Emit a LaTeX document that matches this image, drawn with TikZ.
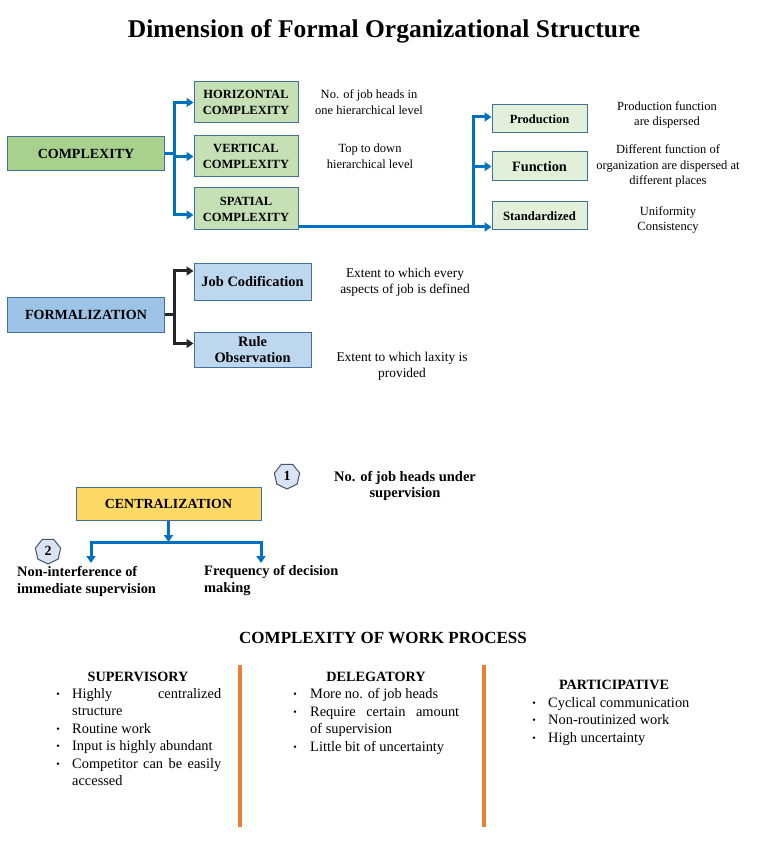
\documentclass[tikz,border=0pt]{standalone}
\usepackage{fontspec}
\setmainfont{Liberation Serif}
\usetikzlibrary{arrows.meta,shapes.geometric}
\definecolor{linkblue}{HTML}{0070C0}
\definecolor{linkblack}{HTML}{262626}
\definecolor{boxline}{HTML}{41719C}
\definecolor{cgreen}{HTML}{A9D18E}
\definecolor{subgreen}{HTML}{C5E0B4}
\definecolor{palegreen}{HTML}{E2F0D9}
\definecolor{fblue}{HTML}{9DC3E6}
\definecolor{subblue}{HTML}{BDD7EE}
\definecolor{cyellow}{HTML}{FFD966}
\definecolor{badgefill}{HTML}{DAE3F3}
\definecolor{badgeline}{HTML}{44546A}
\definecolor{rulecolor}{HTML}{ED7D31}
\tikzset{
  box/.style={draw=boxline, line width=1pt, inner sep=1pt, align=center,
    font=\bfseries\fontsize{14}{16}\selectfont},
  subbox/.style={box, font=\bfseries\fontsize{12.5}{16}\selectfont},
  note/.style={align=center, inner sep=0pt, font=\fontsize{12.5}{15.5}\selectfont},
  bluelink/.style={draw=linkblue, line width=3pt},
  bluearrow/.style={bluelink, -{Triangle[length=7pt,width=9pt]}},
  blackarrow/.style={draw=linkblack, line width=3pt, -{Triangle[length=7pt,width=9pt]}},
  badge/.style={regular polygon, regular polygon sides=7, shape border rotate=180,
    draw=badgeline, fill=badgefill, line width=1pt, minimum size=26pt, inner sep=0pt,
    font=\bfseries\fontsize{14}{14}\selectfont},
  heading/.style={inner sep=0pt, font=\bfseries\fontsize{14.2}{16}\selectfont},
  item/.style={anchor=base west, inner sep=0pt, text width=149pt, align=justify,
    font=\fontsize{14.4}{17.5}\selectfont,
    execute at begin node={\hyphenpenalty=10000\relax\tolerance=10000\relax}},
  bullet/.style={inner sep=0pt, font=\fontsize{10}{10}\selectfont},
  orangerule/.style={draw=rulecolor, line width=3.5pt}
}
\begin{document}
\begin{tikzpicture}[x=1pt,y=-1pt]
    \useasboundingbox (0,0) rectangle (768,866);
    \node[inner sep=0pt, font=\bfseries\fontsize{25.5}{28}\selectfont] (title) at (384,31) {Dimension of Formal Organizational Structure};

    % complexity
    \node[box, fill=cgreen, minimum width=157pt, minimum height=34pt] (complexity) at (86,154) {COMPLEXITY};
    \node[subbox, fill=subgreen, minimum width=104pt, minimum height=41pt] (horiz) at (246,102.5) {HORIZONTAL\\COMPLEXITY};
    \node[subbox, fill=subgreen, minimum width=104pt, minimum height=41pt] (vert) at (246,156.5) {VERTICAL\\COMPLEXITY};
    \node[subbox, fill=subgreen, minimum width=104pt, minimum height=42pt] (spatial) at (246,209) {SPATIAL\\COMPLEXITY};
    \node[note] (horiznote) at (369,102) {No. of job heads in\\one hierarchical level};
    \node[note] (vertnote) at (370,156) {Top to down\\hierarchical level};
    \coordinate (csplit) at (174,154);
    \draw[bluelink] (complexity.east) -- (csplit);
    \draw[bluearrow] (csplit) |- (horiz.west);
    \draw[bluearrow] (csplit) |- (vert.west);
    \draw[bluearrow] (csplit) |- ([yshift=-6pt]spatial.west);

    \node[box, fill=palegreen, minimum width=95pt, minimum height=28pt, font=\bfseries\fontsize{12.5}{14}\selectfont] (production) at (539.5,119) {Production};
    \node[box, fill=palegreen, minimum width=95pt, minimum height=29pt, font=\bfseries\fontsize{14.3}{16}\selectfont] (function) at (539.5,166.5) {Function};
    \node[box, fill=palegreen, minimum width=95pt, minimum height=28pt, font=\bfseries\fontsize{12.7}{14}\selectfont] (standard) at (539.5,216) {Standardized};
    \node[note] (prodnote) at (667,115) {Production function\\are dispersed};
    \node[note] (funcnote) at (668,166) {Different function of\\organization are dispersed at\\different places};
    \node[note] (standnote) at (668,220) {Uniformity\\Consistency};
    \coordinate (psplit) at (473,227);
    \draw[bluelink] ([yshift=-18pt]spatial.east) -- (psplit);
    \draw[bluearrow] (psplit) |- ([yshift=2pt]production.west);
    \draw[bluearrow] (psplit) |- (function.west);
    \draw[bluearrow] (psplit) -- (standard.west |- psplit);

    % formalization
    \node[box, fill=fblue, minimum width=157pt, minimum height=35pt] (formal) at (86,314.5) {FORMALIZATION};
    \node[box, fill=subblue, minimum width=117pt, minimum height=36pt, font=\bfseries\fontsize{14.4}{16}\selectfont] (jobcod) at (252.5,282) {Job Codification};
    \node[box, fill=subblue, minimum width=117pt, minimum height=35pt, font=\bfseries\fontsize{14.4}{16}\selectfont] (rule) at (252.5,349.5) {Rule\\Observation};
    \node[note, font=\fontsize{13.4}{16.5}\selectfont] (jobnote) at (405,282.5) {Extent to which every\\aspects of job is defined};
    \node[note, font=\fontsize{13.4}{16.5}\selectfont] (rulenote) at (402,366.5) {Extent to which laxity is\\provided};
    \coordinate (fsplit) at (174,314.5);
    \draw[draw=linkblack, line width=3pt] (formal.east) -- (fsplit);
    \draw[blackarrow] (fsplit) |- ([yshift=11pt]jobcod.west);
    \draw[blackarrow] (fsplit) |- ([yshift=6pt]rule.west);

    % centralization
    \node[box, fill=cyellow, minimum width=185pt, minimum height=33pt, font=\bfseries\fontsize{13.9}{16}\selectfont] (central) at (168.5,503.5) {CENTRALIZATION};
    \node[badge] (one) at (287,476) {1};
    \node[badge] (two) at (48,551) {2};
    \node[note, font=\bfseries\fontsize{14.5}{16.5}\selectfont] (headsnote) at (405,486) {No. of job heads under\\supervision};
    \node[anchor=west, align=left, inner sep=0pt, font=\bfseries\fontsize{14.4}{17}\selectfont] (noninter) at (17,581) {Non-interference of\\immediate supervision};
    \node[anchor=west, align=left, inner sep=0pt, font=\bfseries\fontsize{14.4}{17}\selectfont] (freq) at (204,581) {Frequency of decision\\making};
    \coordinate (cbar) at (168.5,542);
    \coordinate (cleft) at (91,542);
    \coordinate (cright) at (261,542);
    \draw[bluearrow] (central.south) -- (cbar);
    \draw[bluelink, {Triangle[length=7pt,width=9pt]}-{Triangle[length=7pt,width=9pt]}] ([yshift=-21pt]cleft) -- (cleft) -- (cright) -- ([yshift=-21pt]cright);

    % work process
    \node[inner sep=0pt, font=\bfseries\fontsize{17}{19}\selectfont] (worktitle) at (383,638) {COMPLEXITY OF WORK PROCESS};
    \draw[orangerule] (240,665) -- (240,827);
    \draw[orangerule] (484,665) -- (484,827);

    \node[heading] (superv) at (138,677) {SUPERVISORY};
    \node[bullet] (sb1) at (58,695) {\textbullet};
    \node[item] (s1) at (72,698) {Highly centralized structure};
    \node[bullet] (sb2) at (58,730) {\textbullet};
    \node[item] (s2) at (72,733) {Routine work};
    \node[bullet] (sb3) at (58,747.5) {\textbullet};
    \node[item] (s3) at (72,750.5) {Input is highly abundant};
    \node[bullet] (sb4) at (58,765) {\textbullet};
    \node[item] (s4) at (72,768) {Competitor can be easily accessed};

    \node[heading] (deleg) at (376,677) {DELEGATORY};
    \node[bullet] (db1) at (295,695) {\textbullet};
    \node[item] (d1) at (310,698) {More no. of job heads};
    \node[bullet] (db2) at (295,713) {\textbullet};
    \node[item] (d2) at (310,716) {Require certain amount\linebreak of supervision};
    \node[bullet] (db3) at (295,748) {\textbullet};
    \node[item] (d3) at (310,751) {Little bit of uncertainty};

    \node[heading] (partic) at (614,685) {PARTICIPATIVE};
    \node[bullet] (pb1) at (534,704) {\textbullet};
    \node[item, text width=200pt] (p1) at (548,707) {Cyclical communication};
    \node[bullet] (pb2) at (534,721.5) {\textbullet};
    \node[item, text width=200pt] (p2) at (548,724.5) {Non-routinized work};
    \node[bullet] (pb3) at (534,739) {\textbullet};
    \node[item, text width=200pt] (p3) at (548,742) {High uncertainty};
\end{tikzpicture}
\end{document}
